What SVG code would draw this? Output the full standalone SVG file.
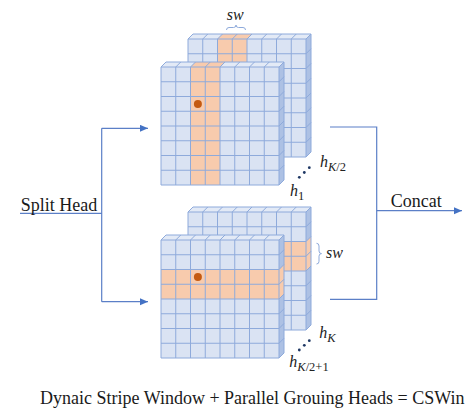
<svg xmlns="http://www.w3.org/2000/svg" xmlns:xlink="http://www.w3.org/1999/xlink" width="474" height="413" viewBox="0 0 474 413">
<style>
.face{fill:#dae3f3}
.top{fill:#e3eaf6}
.side{fill:#adc1e4}
.org{fill:#f8cbad}
.gl{fill:none;stroke:#8eaadb;stroke-width:1}
.conn{fill:none;stroke:#5b7fc7;stroke-width:1.2}
.lbl{font-size:18px;fill:#1a1a1a}
.math{font-size:16px;fill:#222}
.brace{fill:none;stroke:#8eaadb;stroke-width:1}
.dot{fill:#c55a11}
.ell{fill:#1f3864}
</style>
<defs>
<marker id="arr" markerWidth="9" markerHeight="8" refX="8" refY="3.5" orient="auto" markerUnits="userSpaceOnUse">
<path d="M0,0 L8,3.5 L0,7 z" fill="#4472c4"/>
</marker>
<g id="cube-base">
<polygon class="top" points="0,0 118,0 123,-5 5,-5"/>
<polygon class="side" points="118,0 123,-5 123,113 118,118"/>
<rect class="face" x="0" y="0" width="118" height="118"/>
</g>
<g id="orange-col">
<rect class="org" x="29.5" y="0" width="29.5" height="118"/>
<polygon class="org" points="29.5,0 59,0 64,-5 34.5,-5"/>
</g>
<g id="orange-row">
<rect class="org" x="0" y="29.5" width="118" height="29.5"/>
<polygon class="org" points="118,29.5 123,24.5 123,54 118,59"/>
</g>
<path id="cube-lines" class="gl" d="M0,0V118M14.75,0V118M29.5,0V118M44.25,0V118M59,0V118M73.75,0V118M88.5,0V118M103.25,0V118M118,0V118M0,0H118M0,14.75H118M0,29.5H118M0,44.25H118M0,59H118M0,73.75H118M0,88.5H118M0,103.25H118M0,118H118M0,0l5,-5M14.75,0l5,-5M29.5,0l5,-5M44.25,0l5,-5M59,0l5,-5M73.75,0l5,-5M88.5,0l5,-5M103.25,0l5,-5M118,0l5,-5M5,-5H123M118,14.75l5,-5M118,29.5l5,-5M118,44.25l5,-5M118,59l5,-5M118,73.75l5,-5M118,88.5l5,-5M118,103.25l5,-5M118,118l5,-5M123,-5V113"/>
</defs>
<rect width="474" height="413" fill="#ffffff"/>

<g id="connectors">
<path class="conn" d="M20,213.3H101.7M101.7,128.3V301.7"/>
<path class="conn" d="M101.7,128.3H148" marker-end="url(#arr)"/>
<path class="conn" d="M101.7,301.7H148" marker-end="url(#arr)"/>
<path class="conn" d="M330,127H376.7V299.3H330"/>
<path class="conn" d="M376.7,210.7H462" marker-end="url(#arr)"/>
</g>

<g id="grid-top-back" transform="translate(188,39)">
<use xlink:href="#cube-base" href="#cube-base"/>
<use xlink:href="#orange-col" href="#orange-col"/>
<use xlink:href="#cube-lines" href="#cube-lines"/>
</g>
<g id="grid-top-front" transform="translate(161,67)">
<use xlink:href="#cube-base" href="#cube-base"/>
<use xlink:href="#orange-col" href="#orange-col"/>
<use xlink:href="#cube-lines" href="#cube-lines"/>
<circle class="dot" cx="36.9" cy="36.9" r="4"/>
</g>
<g id="grid-bottom-back" transform="translate(188,212)">
<use xlink:href="#cube-base" href="#cube-base"/>
<use xlink:href="#orange-row" href="#orange-row"/>
<use xlink:href="#cube-lines" href="#cube-lines"/>
</g>
<g id="grid-bottom-front" transform="translate(161,240)">
<use xlink:href="#cube-base" href="#cube-base"/>
<use xlink:href="#orange-row" href="#orange-row"/>
<use xlink:href="#cube-lines" href="#cube-lines"/>
<circle class="dot" cx="36.9" cy="36.9" r="4"/>
</g>

<g id="label-sw-top">
<path class="brace" d="M226.5,30 Q226.5,27.5 229,27.5 H233.5 Q236,27.5 236,25 Q236,27.5 238.5,27.5 H243 Q245.5,27.5 245.5,30"/>
<text class="math" font-family="'Liberation Serif','DejaVu Serif',serif" x="226.7" y="20" font-style="italic">sw</text>
</g>
<g id="label-sw-right">
<path class="brace" d="M316.5,243.3 Q319,243.3 319,246 V251 Q319,253.6 321.5,253.6 Q319,253.6 319,256.2 V261.3 Q319,264 316.5,264"/>
<text class="math" font-family="'Liberation Serif','DejaVu Serif',serif" x="326" y="258.3" font-style="italic">sw</text>
</g>

<g id="label-heads-top">
<text class="math" font-family="'Liberation Serif','DejaVu Serif',serif" x="320" y="166.7"><tspan font-style="italic">h</tspan><tspan dy="4" font-size="12.5"><tspan font-style="italic">K</tspan>/2</tspan></text>
<text class="math" font-family="'Liberation Serif','DejaVu Serif',serif" x="290" y="196"><tspan font-style="italic">h</tspan><tspan dy="4" font-size="12.5">1</tspan></text>
<circle class="ell" cx="299.3" cy="177.3" r="1.4"/>
<circle class="ell" cx="304.3" cy="172.5" r="1.4"/>
<circle class="ell" cx="309.3" cy="167.7" r="1.4"/>
</g>
<g id="label-heads-bottom">
<text class="math" font-family="'Liberation Serif','DejaVu Serif',serif" x="319.3" y="338.3"><tspan font-style="italic">h</tspan><tspan dy="4" font-size="12.5" font-style="italic">K</tspan></text>
<text class="math" font-family="'Liberation Serif','DejaVu Serif',serif" x="289.3" y="367.3"><tspan font-style="italic">h</tspan><tspan dy="4" font-size="12.5"><tspan font-style="italic">K</tspan>/2+1</tspan></text>
<circle class="ell" cx="299.3" cy="350" r="1.4"/>
<circle class="ell" cx="304.3" cy="345.3" r="1.4"/>
<circle class="ell" cx="309.3" cy="340.7" r="1.4"/>
</g>

<g id="node-split-head">
<text class="lbl" font-family="'Liberation Serif','DejaVu Serif',serif" x="20.7" y="210.7">Split Head</text>
</g>
<g id="node-concat">
<text class="lbl" font-family="'Liberation Serif','DejaVu Serif',serif" x="390.7" y="206.7">Concat</text>
</g>
<g id="caption">
<text class="lbl" font-family="'Liberation Serif','DejaVu Serif',serif" x="40" y="404.3">Dynaic Stripe Window + Parallel Grouing Heads = CSWin</text>
</g>
</svg>
